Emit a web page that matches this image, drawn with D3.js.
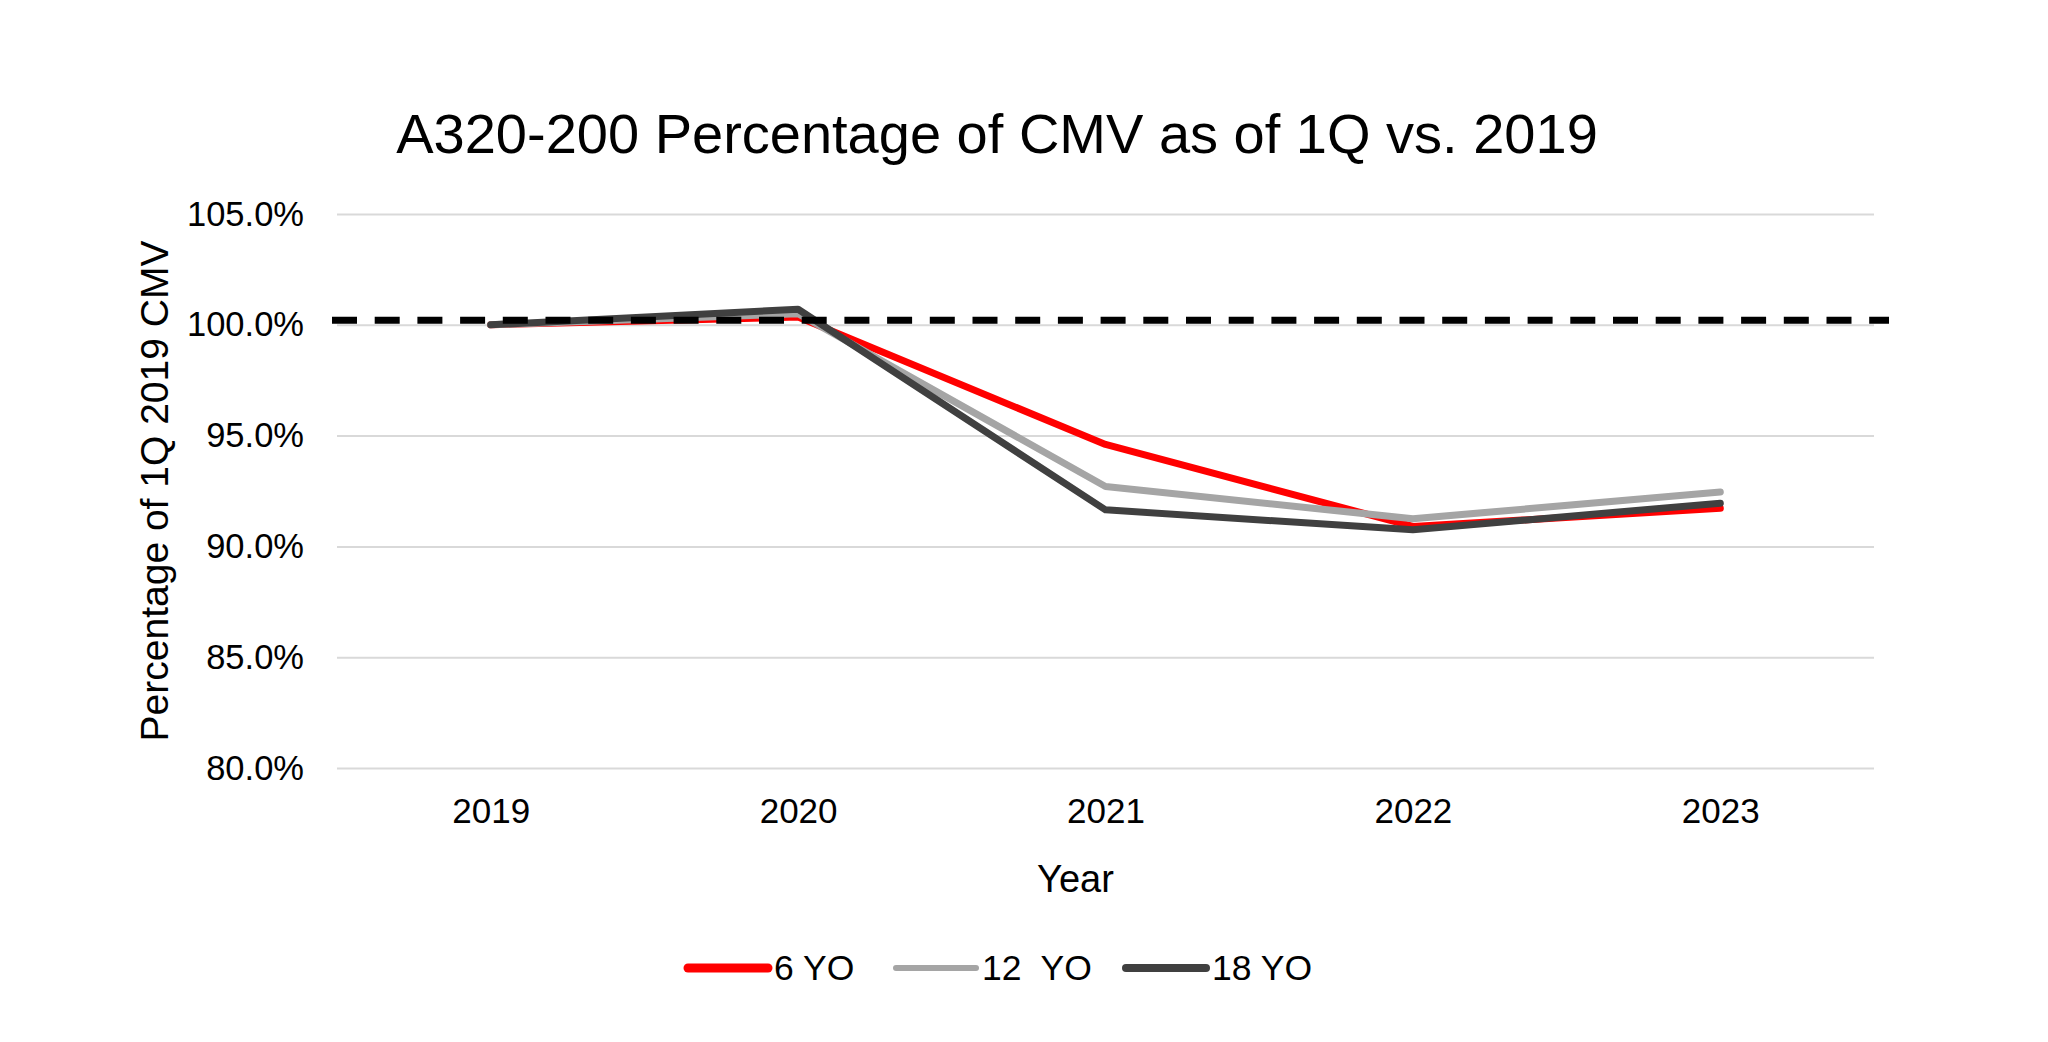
<!DOCTYPE html>
<html>
<head>
<meta charset="utf-8">
<script src="https://cdn.jsdelivr.net/npm/d3@7"></script>
<style>
    body { margin: 0; background: #ffffff; }
    #chart-area text { font-family: "Liberation Sans", Arial, sans-serif; fill: #000000; }
</style>
</head>
<body>
<div id="chart-area"></div>
<script>
// values
const years = ["2019", "2020", "2021", "2022", "2023"];
const seriesNames = ["6 YO", "12  YO", "18 YO"];
const sixYO = [100.0, 100.35, 94.6, 90.9, 91.72];
const twelveYO = [100.0, 100.5, 92.7, 91.25, 92.45];
const eighteenYO = [100.0, 100.7, 91.65, 90.75, 91.95];
const yTicks = [80, 85, 90, 95, 100, 105];
const baseline = 100.2;

class CmvChart {
    constructor (parentElement) {
        this.parentElement = parentElement;
        this.colors = ['#ff0000', '#a5a5a5', '#404040'];
        this.widths = [7, 7, 7];
        this.legendWidths = [9, 6, 8];
    }

    initViz() {
        let vis = this;

        vis.margin = {top: 214, right: 174, bottom: 274, left: 337};
        vis.width = 2048 - vis.margin.left - vis.margin.right;
        vis.height = 1042 - vis.margin.top - vis.margin.bottom;

        vis.svg = d3.select("#" + vis.parentElement).append("svg")
            .attr("width", 2048)
            .attr("height", 1042)
            .append("g")
            .attr("transform", "translate(" + vis.margin.left + "," + vis.margin.top + ")");

        vis.x = d3.scalePoint()
            .domain(years)
            .range([0, vis.width])
            .padding(0.5);

        vis.y = d3.scaleLinear()
            .domain([80, 105])
            .range([vis.height, 0]);

        // gridlines
        vis.svg.append("g")
            .attr("class", "grid")
            .call(d3.axisLeft(vis.y).tickValues(yTicks).tickSize(-vis.width).tickFormat(""))
            .call(g => g.select(".domain").remove())
            .call(g => g.selectAll("line").attr("stroke", "#d9d9d9").attr("stroke-width", 2));

        // y axis labels
        vis.svg.append("g")
            .attr("class", "y-axis")
            .call(d3.axisLeft(vis.y).tickValues(yTicks).tickSize(0).tickPadding(33)
                .tickFormat(d => d3.format(".1f")(d) + "%"))
            .call(g => g.select(".domain").remove())
            .selectAll("text")
            .style("font-size", "34.5px");

        // x axis labels
        vis.svg.append("g")
            .attr("class", "x-axis")
            .attr("transform", "translate(0," + vis.height + ")")
            .call(d3.axisBottom(vis.x).tickSize(0).tickPadding(30))
            .call(g => g.select(".domain").remove())
            .selectAll("text")
            .style("font-size", "35px");

        // titles
        vis.svg.append("text")
            .attr("text-anchor", "middle")
            .attr("x", 997 - vis.margin.left)
            .attr("y", 153 - vis.margin.top)
            .style("font-size", "56px")
            .text("A320-200 Percentage of CMV as of 1Q vs. 2019");

        vis.svg.append("text")
            .attr("text-anchor", "middle")
            .attr("x", vis.width / 2 - 30)
            .attr("y", vis.height + 124)
            .style("font-size", "38px")
            .text("Year");

        vis.svg.append("text")
            .attr("text-anchor", "middle")
            .attr("transform", "rotate(-90)")
            .attr("x", -vis.height / 2)
            .attr("y", -169)
            .style("font-size", "39px")
            .text("Percentage of 1Q 2019 CMV");

        vis.line = d3.line()
            .x(d => vis.x(d.year))
            .y(d => vis.y(d.value));

        vis.wrangleData();
    }

    wrangleData() {
        let vis = this;
        vis.displayData = [sixYO, twelveYO, eighteenYO].map((vals, i) => ({
            name: seriesNames[i],
            points: vals.map((v, j) => ({year: years[j], value: v}))
        }));
        vis.updateViz();
    }

    updateViz() {
        let vis = this;

        vis.svg.selectAll(".series")
            .data(vis.displayData)
            .enter()
            .append("path")
            .attr("class", "series")
            .attr("d", d => vis.line(d.points))
            .attr("fill", "none")
            .attr("stroke", (d, i) => vis.colors[i])
            .attr("stroke-width", (d, i) => vis.widths[i])
            .attr("stroke-linejoin", "round")
            .attr("stroke-linecap", "round");

        // reference line at 1Q 2019, drawn on top
        vis.svg.append("line")
            .attr("x1", -5)
            .attr("x2", vis.width + 15)
            .attr("y1", vis.y(baseline))
            .attr("y2", vis.y(baseline))
            .attr("stroke", "#000000")
            .attr("stroke-width", 7)
            .attr("stroke-dasharray", "25,17.7");

        // legend
        let legendX = [688, 896, 1126];
        let legend = vis.svg.selectAll(".legend")
            .data(vis.displayData)
            .enter()
            .append("g")
            .attr("class", "legend")
            .attr("transform", (d, i) => "translate(" + (legendX[i] - vis.margin.left) + "," + (968 - vis.margin.top) + ")");

        legend.append("line")
            .attr("x1", 0)
            .attr("x2", 80)
            .attr("stroke", (d, i) => vis.colors[i])
            .attr("stroke-width", (d, i) => vis.legendWidths[i])
            .attr("stroke-linecap", "round");

        legend.append("text")
            .attr("x", 86)
            .attr("dy", "0.35em")
            .style("font-size", "35.5px")
            .style("white-space", "pre")
            .text(d => d.name);
    }
}

let chart = new CmvChart("chart-area");
chart.initViz();
</script>
</body>
</html>
